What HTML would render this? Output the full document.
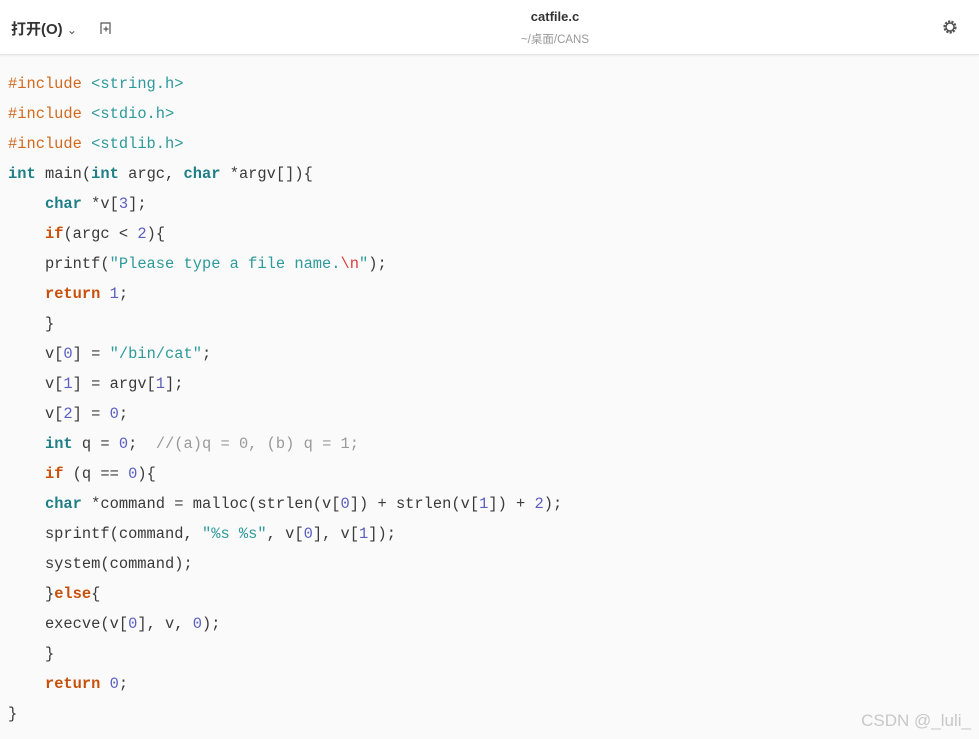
<!DOCTYPE html>
<html><head><meta charset="utf-8"><style>
html,body{margin:0;padding:0;width:979px;height:739px;overflow:hidden;background:#fafafa;}
.hdr{position:absolute;left:0;top:0;width:979px;height:54px;background:#fff;border-bottom:1px solid #e4e4e4;box-shadow:0 1px 2px rgba(0,0,0,.06);font-family:"Liberation Sans","Noto Sans CJK SC",sans-serif;}
.open{position:absolute;left:11px;top:18px;font-size:15px;font-weight:bold;color:#333;}
.title{position:absolute;left:0;width:1110px;text-align:center;top:9px;font-size:13px;font-weight:bold;color:#333;}
.sub{position:absolute;left:0;width:1110px;text-align:center;top:31px;font-size:11.5px;color:#999;}
pre{position:absolute;left:8px;top:69px;margin:0;font-family:"Liberation Mono",monospace;font-size:15.4px;line-height:30px;color:#3a3a3a;}
.p{color:#d2691e}.s{color:#2e9a9a}.k{color:#1f7f86;font-weight:bold}.o{color:#c8500a;font-weight:bold}.n{color:#5a5fc0}.c{color:#999}.e{color:#e03c3c}
.wm{position:absolute;right:8px;top:711px;font-family:"Liberation Sans",sans-serif;font-size:17px;color:#c8c8c8;}
</style></head><body>
<div class="hdr">
<div class="open">打开(O) <span style="font-weight:normal;font-size:12px;color:#555">&#8964;</span></div>
<svg style="position:absolute;left:99px;top:21px" width="14" height="14"><path d="M2 13V2h9v11M4.5 8h5M7 5.5v5" stroke="#555" stroke-width="1.2" fill="none"/></svg>
<div class="title">catfile.c</div>
<div class="sub">~/桌面/CANS</div>
<svg style="position:absolute;left:941px;top:18px" width="18" height="18"><circle cx="9" cy="9" r="5.5" stroke="#555" stroke-width="2.2" fill="none" stroke-dasharray="2.2 1.2"/><circle cx="9" cy="9" r="4" stroke="#555" stroke-width="1.5" fill="#fff"/></svg>
</div>
<pre><span class="p">#include</span> <span class="s">&lt;string.h&gt;</span>
<span class="p">#include</span> <span class="s">&lt;stdio.h&gt;</span>
<span class="p">#include</span> <span class="s">&lt;stdlib.h&gt;</span>
<span class="k">int</span> main(<span class="k">int</span> argc, <span class="k">char</span> *argv[]){
    <span class="k">char</span> *v[<span class="n">3</span>];
    <span class="o">if</span>(argc &lt; <span class="n">2</span>){
    printf(<span class="s">"Please type a file name.</span><span class="e">\n</span><span class="s">"</span>);
    <span class="o">return</span> <span class="n">1</span>;
    }
    v[<span class="n">0</span>] = <span class="s">"/bin/cat"</span>;
    v[<span class="n">1</span>] = argv[<span class="n">1</span>];
    v[<span class="n">2</span>] = <span class="n">0</span>;
    <span class="k">int</span> q = <span class="n">0</span>;  <span class="c">//(a)q = 0, (b) q = 1;</span>
    <span class="o">if</span> (q == <span class="n">0</span>){
    <span class="k">char</span> *command = malloc(strlen(v[<span class="n">0</span>]) + strlen(v[<span class="n">1</span>]) + <span class="n">2</span>);
    sprintf(command, <span class="s">"%s %s"</span>, v[<span class="n">0</span>], v[<span class="n">1</span>]);
    system(command);
    }<span class="o">else</span>{
    execve(v[<span class="n">0</span>], v, <span class="n">0</span>);
    }
    <span class="o">return</span> <span class="n">0</span>;
}</pre>
<div class="wm">CSDN @_luli_</div>
</body></html>
